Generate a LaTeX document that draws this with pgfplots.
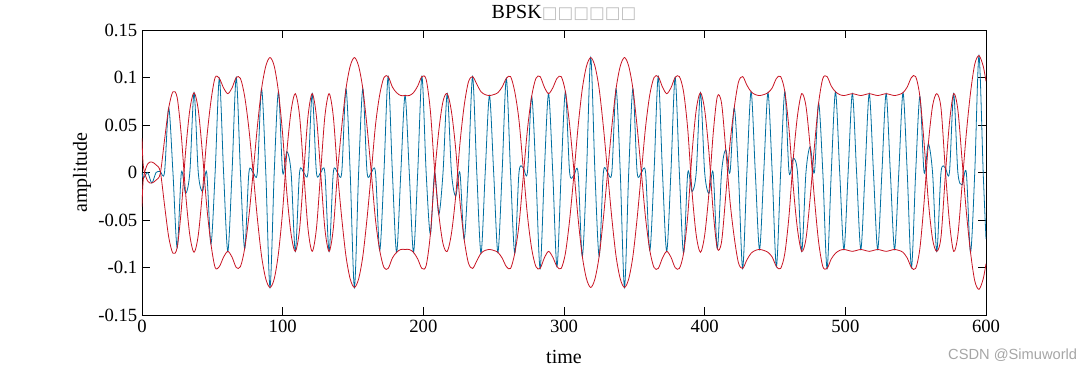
\documentclass[border=0pt]{standalone}
\usepackage{fontspec}
\setmainfont{Liberation Serif}
\newfontfamily\sqfont{DejaVu Sans}
\newfontfamily\wmfont{Liberation Sans}
\usepackage{pgfplots}
\usepackage{pgfplotstable}
\pgfplotsset{compat=1.18}
\definecolor{sigblue}{RGB}{0,110,160}
\definecolor{envred}{RGB}{200,20,35}

\pgfplotstableread{
t b s
0 -0.036 0
1 -0.006 -0.006
4 0.009 0
7 0.011 -0.011
10 0.008 0
13 0.001 0.001
16 -0.034 0
19 -0.068 0.068
22 -0.085 0
25 -0.079 -0.079
28 -0.038 0
31 0.022 -0.022
34 0.066 0
37 0.084 0.084
40 0.066 0
43 0.020 -0.020
46 -0.035 0
49 -0.075 -0.075
52 -0.100 0
55 -0.099 0.099
58 -0.089 0
61 -0.083 -0.083
64 -0.089 0
67 -0.100 0.100
70 -0.099 0
73 -0.080 -0.080
76 -0.046 0
79 0.000 0
82 0.048 0
85 0.088 0.088
88 0.112 0
91 0.121 -0.121
94 0.112 0
97 0.085 0.085
100 0.040 0
103 -0.022 0.022
106 -0.065 0
109 -0.083 -0.083
112 -0.060 0
115 0.000 0
118 0.059 0
121 0.083 0.083
124 0.059 0
127 0.000 0
130 -0.059 0
133 -0.083 -0.083
136 -0.059 0
139 0.000 0
142 0.048 0
145 0.088 0.088
148 0.112 0
151 0.121 -0.121
154 0.112 0
157 0.088 0.088
160 0.048 0
163 0.000 0
166 -0.050 0
169 -0.082 -0.082
172 -0.100 0
175 -0.101 0.101
178 -0.090 0
181 -0.084 -0.084
184 -0.081 0
187 -0.081 0.081
190 -0.081 0
193 -0.084 -0.084
196 -0.091 0
199 -0.101 0.101
202 -0.098 0
205 -0.065 -0.065
208 -0.003 0
211 0.044 -0.044
214 0.075 0
217 0.083 0.083
220 0.064 0
223 0.025 -0.025
226 -0.030 0
229 -0.070 -0.070
232 -0.095 0
235 -0.101 0.101
238 -0.093 0
241 -0.085 -0.085
244 -0.082 0
247 -0.081 0.081
250 -0.082 0
253 -0.084 -0.084
256 -0.090 0
259 -0.099 0.099
262 -0.101 0
265 -0.085 -0.085
268 -0.055 0
271 -0.005 0.005
274 0.045 0
277 0.080 0.080
280 0.099 0
283 0.101 -0.101
286 0.090 0
289 0.083 0.083
292 0.089 0
295 0.099 -0.099
298 0.101 0
301 0.085 0.085
304 0.050 0
307 0.003 -0.003
310 -0.048 0
313 -0.088 -0.088
316 -0.112 0
319 -0.121 0.121
322 -0.112 0
325 -0.088 -0.088
328 -0.048 0
331 0.000 0
334 0.048 0
337 0.088 0.088
340 0.112 0
343 0.121 -0.121
346 0.112 0
349 0.088 0.088
352 0.048 0
355 0.000 0
358 -0.048 0
361 -0.082 -0.082
364 -0.100 0
367 -0.101 0.101
370 -0.090 0
373 -0.083 -0.083
376 -0.089 0
379 -0.100 0.100
382 -0.101 0
385 -0.085 -0.085
388 -0.045 0
391 0.020 -0.020
394 0.066 0
397 0.084 0.084
400 0.066 0
403 0.022 -0.022
406 -0.040 0
409 -0.080 -0.080
412 -0.073 0
415 -0.024 0.024
418 0.030 0
421 0.068 0.068
424 0.095 0
427 0.101 -0.101
430 0.092 0
433 0.085 0.085
436 0.082 0
439 0.081 -0.081
442 0.082 0
445 0.084 0.084
448 0.089 0
451 0.099 -0.099
454 0.101 0
457 0.085 0.085
460 0.045 0
463 -0.015 0.015
466 -0.060 0
469 -0.083 -0.083
472 -0.070 0
475 -0.027 0.027
478 0.027 0
481 0.073 0.073
484 0.099 0
487 0.101 -0.101
490 0.091 0
493 0.085 0.085
496 0.082 0
499 0.081 -0.081
502 0.082 0
505 0.083 0.083
508 0.082 0
511 0.081 -0.081
514 0.082 0
517 0.083 0.083
520 0.082 0
523 0.081 -0.081
526 0.082 0
529 0.083 0.083
532 0.082 0
535 0.081 -0.081
538 0.082 0
541 0.084 0.084
544 0.090 0
547 0.100 -0.100
550 0.101 0
553 0.080 0.080
556 0.031 0
559 -0.030 0.030
562 -0.070 0
565 -0.083 -0.083
568 -0.068 0
571 -0.005 0.005
574 0.052 0
577 0.083 0.083
580 0.066 0
583 0.013 -0.013
586 -0.041 0
589 -0.084 -0.084
592 -0.114 0
595 -0.123 0.123
598 -0.112 0
600 -0.096 -0.070
}\datatable

\begin{document}
\begin{tikzpicture}
\useasboundingbox (-106.5pt,-40.5pt) rectangle (711.75pt,236.25pt);
\begin{axis}[
  at={(0pt,0pt)}, anchor=south west,
  scale only axis, width=633pt, height=213.75pt,
  xmin=0, xmax=600, ymin=-0.15, ymax=0.15,
  xtick={0,100,200,300,400,500,600},
  xticklabels={0,100,200,300,400,500,600},
  ytick={-0.15,-0.1,-0.05,0,0.05,0.1,0.15},
  yticklabels={-0.15,-0.1,-0.05,0,0.05,0.1,0.15},
  tick align=inside, major tick length=6pt,
  tick style={black, line width=0.5pt},
  axis line style={line width=0.6pt},
  ticklabel style={font=\fontsize{14}{16}\selectfont},
  xlabel={time}, ylabel={amplitude},
  xlabel style={font=\fontsize{15}{17}\selectfont, at={(axis description cs:0.5,-0.147)}, anchor=center},
  ylabel style={font=\fontsize{15}{17}\selectfont, at={(axis description cs:-0.0711,0.5)}, anchor=center},
  every axis title shift=0pt,
  title={BPSK{\sqfont\fontsize{12.5}{15}\selectfont\color{gray!50}□□□□□□}},
  title style={font=\fontsize{15}{17}\selectfont, at={(axis description cs:0.5,1.0596)}, anchor=center},
]
\addplot[sigblue, smooth, line width=0.6pt] table[x=t, y=s]{\datatable};
\addplot[envred, smooth, line width=0.6pt] table[x=t, y=b]{\datatable};
\addplot[envred, smooth, line width=0.6pt] table[x=t, y expr=-\thisrow{b}]{\datatable};
\end{axis}
\node[font=\wmfont\fontsize{11}{13}\selectfont, text=gray!70] at (653pt,-30pt) {CSDN @Simuworld};
\end{tikzpicture}
\end{document}
